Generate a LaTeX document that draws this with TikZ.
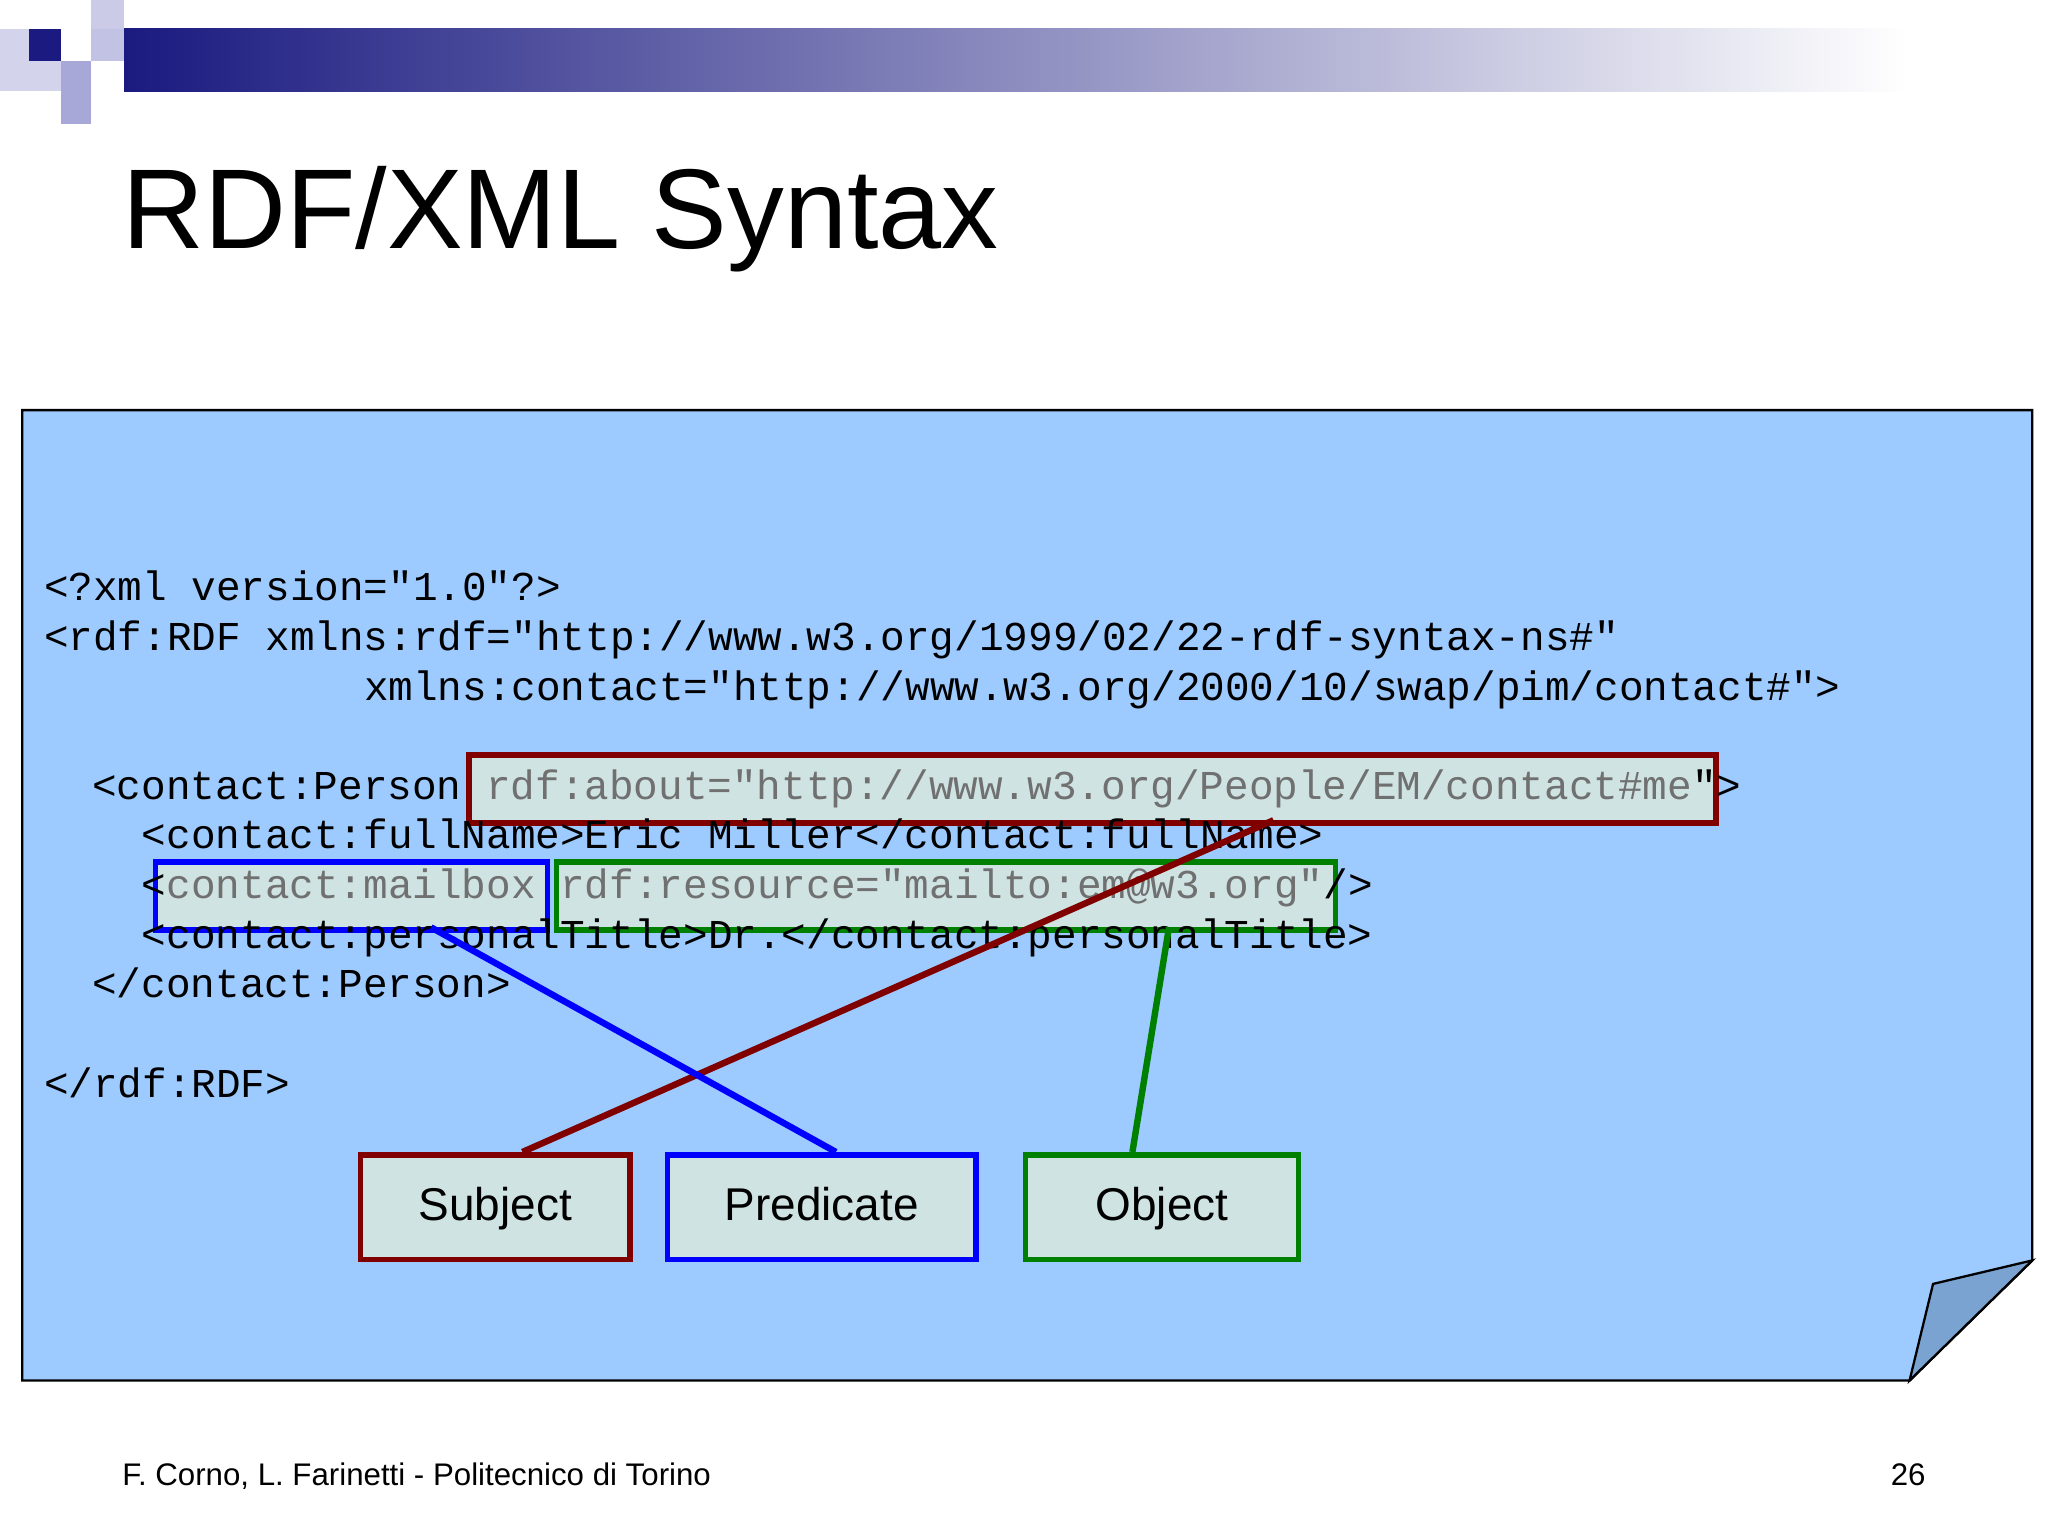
\documentclass[tikz,border=0pt]{standalone}
\usepackage{fontspec}
\setmainfont{Liberation Sans}
\newfontfamily\codefont{Liberation Mono}
\begin{document}
\begin{tikzpicture}[x=0.01cm,y=-0.01cm,
  code/.style={anchor=base west,inner sep=0,font=\codefont\fontsize{8.93}{10}\selectfont},
  hl/.style={draw,line width=1.2pt,fill=hlfill,inner sep=0},
  lbl/.style={draw,line width=1.2pt,fill=hlfill,inner sep=0,text height=1.6ex,text depth=0.45ex,font=\fontsize{10}{12}\selectfont},
  conn/.style={line width=1.4pt}]
\definecolor{navy}{HTML}{1A1A80}
\definecolor{lav}{HTML}{A8A8D8}
\definecolor{paper}{HTML}{9ECBFF}
\definecolor{fold}{HTML}{7BA3D2}
\definecolor{hlfill}{HTML}{CFE3E3}
\definecolor{dred}{HTML}{800000}
\definecolor{dgreen}{HTML}{008000}
\definecolor{gtext}{HTML}{707070}
\useasboundingbox (0,0) rectangle (1568,1176);
% header
\shade[left color=navy,right color=white] (95,22) rectangle (1460,70);
\fill[lav!50] (0,22) rectangle (22,47);
\fill[navy] (22,22) rectangle (47,47);
\fill[lav!50] (0,47) rectangle (47,70);
\fill[lav!60] (70,0) rectangle (95,22);
\fill[lav!70] (70,22) rectangle (95,47);
\fill[lav] (47,47) rectangle (70,70);
\fill[lav] (47,70) rectangle (70,95);
\node[anchor=base west,inner sep=0,font=\fontsize{24.7}{28}\selectfont] (title) at (93,190) {RDF/XML Syntax};
% paper
\draw[fill=paper,line width=0.5pt] (17,314) -- (1556,314) -- (1556,965) -- (1462,1057) -- (17,1057) -- cycle;
\draw[fill=fold,line width=0.5pt] (1556,965) -- (1480,983) -- (1462,1057) -- cycle;
% highlight boxes
\node[hl,draw=dred,minimum width=9.54cm,minimum height=0.52cm,anchor=north west] (about) at (357,576) {};
\node[hl,draw=blue,minimum width=3.0cm,minimum height=0.52cm,anchor=north west] (mailbox) at (117,658) {};
\node[hl,draw=dgreen,minimum width=5.96cm,minimum height=0.52cm,anchor=north west] (res) at (424,658) {};
% code
\node[code] (l1) at (33,460) {<?xml version="1.0"?>};
\node[code] (l2) at (33,498) {<rdf:RDF xmlns:rdf="http://www.w3.org/1999/02/22-rdf-syntax-ns\#"};
\node[code] (l3) at (278,536) {xmlns:contact="http://www.w3.org/2000/10/swap/pim/contact\#">};
\node[code] (l4) at (70,612) {<contact:Person \textcolor{gtext}{rdf:about="http://www.w3.org/People/EM/contact\#me}">};
\node[code] (l5) at (108,650) {<contact:fullName>Eric Miller</contact:fullName>};
\node[code] (l6) at (108,688) {<\textcolor{gtext}{contact:mailbox rdf:resource="mailto:em@w3.org"}/>};
\node[code] (l7) at (108,726) {<contact:personalTitle>Dr.</contact:personalTitle>};
\node[code] (l8) at (70,764) {</contact:Person>};
\node[code] (l9) at (33,840) {</rdf:RDF>};
% labels
\node[lbl,draw=dred,minimum width=2.06cm,minimum height=0.8cm,anchor=north west] (subj) at (274,882) {Subject};
\node[lbl,draw=blue,minimum width=2.36cm,minimum height=0.8cm,anchor=north west] (pred) at (509,882) {Predicate};
\node[lbl,draw=dgreen,minimum width=2.09cm,minimum height=0.8cm,anchor=north west] (obj) at (783,882) {Object};
% connectors
\coordinate (aboutpt) at (975,628);
\coordinate (mailpt) at (330,710);
\coordinate (respt) at (895,710);
\coordinate (subjpt) at (400,882);
\coordinate (predpt) at (640,882);
\coordinate (objpt) at (867,882);
\draw[conn,dred] (subjpt) -- (aboutpt);
\draw[conn,blue] (mailpt) -- (predpt);
\draw[conn,dgreen] (respt) -- (objpt);
% footer
\node[anchor=base west,inner sep=0,font=\fontsize{6.8}{8}\selectfont] (foot) at (93,1137) {F. Corno, L. Farinetti - Politecnico di Torino};
\node[anchor=base east,inner sep=0,font=\fontsize{6.8}{8}\selectfont] (page) at (1475,1137) {26};
\end{tikzpicture}
\end{document}
